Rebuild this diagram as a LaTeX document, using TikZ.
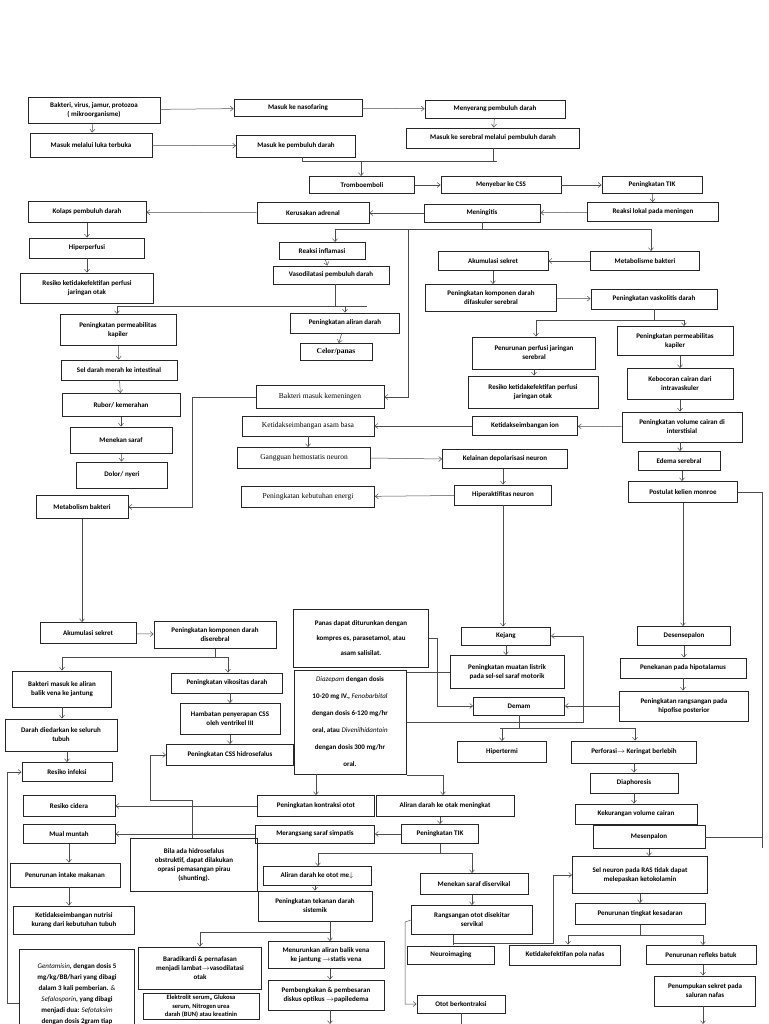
\documentclass[tikz,border=0pt]{standalone}
\usepackage{fontspec}
\setmainfont{Carlito}
\newfontfamily\srf{Liberation Serif}
\usetikzlibrary{arrows.meta}
\begin{document}
\begin{tikzpicture}[x=1pt,y=-1pt,
 bx/.style={draw=black!85,line width=0.9pt,align=center,inner sep=1pt,font=\fontsize{7}{9}\selectfont\bfseries},
 sb/.style={bx,font=\srf\fontsize{7.5}{9}\selectfont},
 ar/.style={draw=black!70,line width=0.5pt,-{Straight Barb[length=3pt,width=5pt]}},
 ln/.style={draw=black!70,line width=0.5pt}]
\useasboundingbox (0,0) rectangle (768,1024);
\newcommand\B[7][bx]{\node[#1,minimum width=#5,minimum height=#6] (#2) at (#3,#4) {#7};}
\B{b1}{94}{110}{132}{26}{Bakteri, virus, jamur, protozoa\\( mikroorganisme)}
\B{b2}{91}{145}{122}{24}{Masuk melalui luka terbuka}
\B{b3}{298}{108}{128}{17}{Masuk ke nasofaring}
\B{b4}{296}{146}{119}{22}{Masuk ke pembuluh darah}
\B{b5}{495}{109}{140}{18}{Menyerang pembuluh darah}
\B{b6}{493}{138}{173}{20}{Masuk ke serebral melalui pembuluh darah}
\B{b7}{362}{185}{105}{17}{Tromboemboli}
\B{b8}{501}{185}{120}{17}{Menyebar ke CSS}
\B{b9}{652}{185}{100}{17}{Peningkatan TIK}
\B{b10}{653}{212}{131}{19}{Reaksi lokal pada meningen}
\B{b11}{482}{213}{116}{18}{Meningitis}
\B{b12}{313}{213}{112}{21}{Kerusakan adrenal}
\B{b13}{87}{212}{118}{21}{Kolaps pembuluh darah}
\B{b14}{87}{248}{115}{20}{Hiperperfusi}
\B{b15}{87}{288}{133}{30}{Resiko ketidakefektifan perfusi\\jaringan otak}
\B{b16}{322}{251}{86}{17}{Reaksi inflamasi}
\B{b17}{331}{275}{116}{18}{Vasodilatasi pembuluh darah}
\B{b18}{493}{261}{110}{19}{Akumulasi sekret}
\B{b19}{645}{261}{109}{19}{Metabolisme bakteri}
\B{b20}{491}{298}{131}{27}{Peningkatan komponen darah\\difaskuler serebral}
\B{b21}{654}{299}{126}{20}{Peningkatan vaskolitis darah}
\B{b22}{118}{330}{116}{31}{Peningkatan permeabilitas\\kapiler}
\B{b23}{345}{323}{109}{20}{Peningkatan aliran darah}
\B[sb]{b24}{336}{352}{72}{17}{\bfseries Celor/panas}
\B{b25}{119}{370}{116}{20}{Sel darah merah ke intestinal}
\B{b26}{121}{405}{118}{23}{Rubor/ kemerahan}
\B{b27}{121}{440}{102}{26}{Menekan saraf}
\B{b28}{122}{475}{91}{26}{Dolor/ nyeri}
\B{b29}{82}{507}{92}{23}{Metabolism bakteri}
\B[sb]{b30}{320}{397}{128}{23}{Bakteri masuk kemeningen}
\B[sb]{b31}{308}{426}{132}{20}{Ketidakseimbangan asam basa}
\B[sb]{b32}{304}{458}{133}{21}{Gangguan hemostatis neuron}
\B[sb]{b33}{308}{497}{133}{21}{Peningkatan kebutuhan energi}
\B{b34}{534}{353}{123}{32}{Penurunan perfusi jaringan\\serebral}
\B{b35}{533}{392}{130}{32}{Resiko ketidakefektifan perfusi\\jaringan otak}
\B{b36}{675}{341}{116}{29}{Peningkatan permeabilitas\\kapiler}
\B{b37}{680}{384}{106}{31}{Kebocoran cairan dari\\intravaskuler}
\B{b38}{682}{427}{120}{30}{Peningkatan volume cairan di\\interstisial}
\B{b39}{525}{426}{105}{19}{Ketidakseimbangan ion}
\B{b40}{505}{459}{125}{19}{Kelainan depolarisasi neuron}
\B{b41}{503}{495}{97}{20}{Hiperaktifitas neuron}
\B{b42}{679}{461}{82}{19}{Edema serebral}
\B{b43}{683}{492}{109}{21}{Postulat kelien monroe}
\B{b44}{88}{633}{96}{21}{Akumulasi sekret}
\B{b45}{215}{635}{122}{27}{Peningkatan komponen darah\\diserebral}
\node[bx,font=\fontsize{7}{15}\selectfont\bfseries,minimum width=135,minimum height=58] (b46) at (361,638) {Panas dapat diturunkan dengan\\kompres es, parasetamol, atau\\asam salisilat.};
\node[bx,font=\fontsize{7}{17}\selectfont\bfseries,minimum width=112,minimum height=104] (b47) at (350,722) {\textit{\mdseries Diazepam} dengan dosis\\10-20 mg IV., \textit{\mdseries Fenobarbital}\\dengan dosis 6-120 mg/hr\\oral, atau \textit{\mdseries Divenilhidantoin}\\dengan dosis 300 mg/hr\\oral.};
\B{b48}{62}{689}{99}{36}{Bakteri masuk ke aliran\\balik vena ke jantung}
\B{b49}{227}{683}{111}{20}{Peningkatan vikositas darah}
\B{b50}{230}{719}{100}{31}{Hambatan penyerapan CSS\\oleh ventrikel III}
\B{b51}{230}{755}{127}{21}{Peningkatan CSS hidrosefalus}
\B{b52}{61}{735}{112}{32}{Darah diedarkan ke seluruh\\tubuh}
\B{b53}{67}{772}{90}{19}{Resiko infeksi}
\B{b54}{69}{806}{92}{21}{Resiko cidera}
\B{b55}{316}{806}{117}{21}{Peningkatan kontraksi otot}
\B{b56}{445}{806}{138}{21}{Aliran darah ke otak meningkat}
\B{b57}{506}{636}{89}{18}{Kejang}
\B{b58}{507}{672}{114}{33}{Peningkatan muatan listrik\\pada sel-sel saraf motorik}
\B{b59}{519}{706}{91}{18}{Demam}
\B{b60}{684}{636}{93}{19}{Desensepalon}
\B{b61}{683}{668}{126}{20}{Penekanan pada hipotalamus}
\B{b62}{684}{706}{129}{30}{Peningkatan rangsangan pada\\hipofise posterior}
\B{b63}{502}{752}{89}{21}{Hipertermi}
\B{b64}{634}{752}{125}{22}{Perforasi$\rightarrow$ Keringat berlebih}
\B{b65}{634}{783}{88}{20}{Diaphoresis}
\B{b66}{636}{814}{122}{20}{Kekurangan volume cairan}
\B{b67}{69}{834}{92}{19}{Mual muntah}
\B{b68}{315}{834}{119}{18}{Merangsang saraf simpatis}
\B{b69}{440}{834}{77}{19}{Peningkatan TIK}
\B{b70}{194}{865}{127}{53}{Bila ada hidrosefalus\\obstruktif, dapat dilakukan\\oprasi pemasangan pirau\\(shunting).}
\B{b71}{649}{837}{112}{23}{Mesenpalon}
\B{b72}{317}{876}{108}{19}{Aliran darah ke otot me$\downarrow$}
\B{b73}{65}{875}{110}{24}{Penurunan intake makanan}
\B{b74}{315}{906}{114}{30}{Peningkatan tekanan darah\\sistemik}
\B{b75}{474}{884}{108}{21}{Menekan saraf diservikal}
\B{b76}{640}{875}{135}{37}{Sel neuron pada RAS tidak dapat\\melepaskan ketokolamin}
\B{b77}{472}{920}{121}{29}{Rangsangan otot disekitar\\servikal}
\B{b78}{74}{920}{121}{28}{Ketidakseimbangan nutrisi\\kurang dari kebutuhan tubuh}
\B{b79}{640}{914}{130}{21}{Penurunan tingkat kesadaran}
\B{b80}{451}{955}{87}{18}{Neuroimaging}
\B{b81}{565}{955}{111}{20}{Ketidakefektifan pola nafas}
\B{b82}{701}{955}{110}{19}{Penurunan refleks batuk}
\B{b83}{705}{991}{101}{30}{Penumpukan sekret pada\\saluran nafas}
\B{b84}{461}{1004}{88}{18}{Otot berkontraksi}
\B{b85}{200}{968}{123}{42}{Baradikardi \& pernafasan\\menjadi lambat$\rightarrow$vasodilatasi\\otak}
\B{b86}{326}{955}{116}{27}{Menurunkan aliran balik vena\\ke jantung $\rightarrow$statis vena}
\B{b87}{326}{995}{116}{30}{Pembengkakan \& pembesaran\\diskus optikus $\rightarrow$papiledema}
\node[bx,anchor=north,minimum width=115,minimum height=90,font=\fontsize{7}{11}\selectfont\bfseries] (b88) at (77,949) {\textit{\mdseries Gentamisin}, dengan dosis 5\\mg/kg/BB/hari yang dibagi\\dalam 3 kali pemberian. \textit{\mdseries \&}\\\textit{\mdseries Sefalosporin}, yang dibagi\\menjadi dua: \textit{\mdseries Sefotaksim}\\dengan dosis 2gram tiap};
\node[bx,anchor=north,minimum width=116,inner ysep=1.5pt,font=\fontsize{6.5}{8.5}\selectfont\bfseries] (b89) at (201,993) {Elektrolit serum,, Glukosa\\serum, Nitrogen urea\\darah (BUN) atau kreatinin};
% connectors
\draw[ar] (b1) -- (b3); \draw[ar] (b3) -- (b5); \draw[ar] (b1) -- (b2); \draw[ar] (b2) -- (b4);
\draw[ar] (b5) -- (b6);
\draw[ln] (b4.south -| 302,0) |- (497,161); \draw[ln] (b6.south) -- (493,161);
\draw[ar] (361,161) -- (b7.north -| 361,0);
\draw[ar] (b7) -- (b8); \draw[ar] (b8) -- (b9); \draw[ar] (b9) -- (b10); \draw[ar] (b10) -- (b11);
\draw[ar] (b11) -- (b12); \draw[ar] (b12) -- (b13); \draw[ar] (b13) -- (b14); \draw[ar] (b14) -- (b15);
\draw[ln] (b11.south) -- (482,229); \draw[ln] (335,229) -- (651,229);
\draw[ar] (335,229) -- (b16.north -| 335,0); \draw[ar] (651,229) -- (b19.north -| 651,0);
\draw[ar] (408,229) |- (b30.east);
\draw[ar] (b16) -- (b17);
\draw[ln] (b17.south -| 335,0) -- (335,306); \draw[ln] (117,306) -- (367,306);
\draw[ar] (117,306) -- (b22.north -| 117,0); \draw[ar] (345,306) -- (b23.north);
\draw[ar] (b23) -- (b24);
\draw[ar] (b22) -- (b25); \draw[ar] (b25) -- (b26); \draw[ar] (b26) -- (b27); \draw[ar] (b27) -- (b28);
\draw[ar] (b19) -- (b18); \draw[ar] (b18) -- (b18 |- b20.north); \draw[ar] (b20) -- (b21);
\draw[ln] (b21.south) -- (654,320); \draw[ln] (536,320) -- (684,320);
\draw[ar] (536,320) -- (b34.north -| 536,0); \draw[ar] (684,320) -- (b36.north -| 684,0);
\draw[ar] (b34) -- (b34 |- b35.north);
\draw[ar] (b36.south -| 680,0) -- (b37.north -| 680,0); \draw[ar] (b37) -- (b37 |- b38.north);
\draw[ar] (b38.south -| 680,0) -- (b42.north -| 680,0); \draw[ar] (b42.south -| 682,0) -- (b43.north -| 682,0);
\draw[ar] (b38) -- (b39); \draw[ar] (b39) -- (b31);
\draw[ar] (b31) -- (b31 |- b32.north); \draw[ar] (b32.east) -- (b40.west);
\draw[ar] (b40.south -| 503,0) -- (b41.north -| 503,0); \draw[ar] (b41) -- (b33);
\draw[ar] (b30.west) -- (192,397) |- (b29.east);
\draw[ar] (b29.south) -- (b29.south |- b44.north);
\draw[ar] (b44) -- (b45);
\draw[ln] (b45.south) -- (215,657); \draw[ln] (62,657) -- (228,657);
\draw[ar] (62,657) -- (b48.north -| 62,0); \draw[ar] (228,657) -- (b49.north -| 228,0);
\draw[ar] (b48.south) -- (b52.north -| b48.south); \draw[ar] (b52.south -| 67,0) -- (b53.north);
\draw[ar] (b49.south -| 230,0) -- (b50.north); \draw[ar] (b50) -- (b51);
\draw[ar] (b41.south) -- (b57.north -| b41.south);
\draw[ar] (b43.south) -- (b60.north -| b43.south);
\draw[ln] (b43.east) -- (762,492) -- (762,848); \draw[ln] (b71.east) -- (762,837);
\draw[ar] (b57) -- (b57 |- b58.north);
\draw[ar] (b60) -- (b60 |- b61.north); \draw[ar] (b61) -- (b61 |- b62.north);
\draw[ar] (b62) -- (b59);
\draw[ar] (b46.east) -- (437,638) |- (b59.west);
\draw[ln] (407,672) -- (b58.west);
\draw[ar] (407,722) -- (583,722) |- (b57.east);
\draw[ln] (b59.south) -- (519,728); \draw[ln] (500,728) -- (636,728);
\draw[ar] (502,728) -- (b63.north); \draw[ar] (635,728) -- (b64.north -| 635,0);
\draw[ar] (b64) -- (b65); \draw[ar] (b65) -- (b65 |- b66.north);
\draw[ar] (316,774) -- (b55.north);
\draw[ar] (407,775) -- (443,775) -- (b56.north -| 443,0);
\draw[ar] (b55) -- (b54);
\draw[ar] (b56.south -| 440,0) -- (b69.north);
\draw[ar] (b69) -- (b68); \draw[ar] (b68) -- (b67);
\draw[ar] (192,838) -- (192,800) -- (150,800) |- (b51.west);
\draw[ar] (7,1003) -- (7,772) -- (b53.west);
\draw[ln] (7,1003) -- (b88.west |- 0,1003);
\draw[ar] (b67) -- (b67 |- b73.north); \draw[ar] (b73.south -| 69,0) -- (b78.north -| 69,0);
\draw[ln] (b69.south) -- (440,853); \draw[ln] (318,853) -- (472,853);
\draw[ar] (318,853) -- (b72.north -| 318,0); \draw[ar] (472,853) -- (b75.north -| 472,0);
\draw[ar] (b72.south -| 315,0) -- (b74.north);
\draw[ln] (b74.south -| 330,0) -- (330,932); \draw[ln] (200,932) -- (330,932);
\draw[ar] (200,932) -- (b85.north); \draw[ar] (330,932) -- (b86.north -| 330,0);
\draw[ar] (b86.south -| 330,0) -- (b87.north -| 330,0);
\draw[ar] (b87.south -| 330,0) -- (330,1024);
\draw[ar] (b75.south -| 472,0) -- (b77.north -| 472,0);
\draw[ar] (b77.west) -- (405,922) |- (b84.west);
\draw[ln] (b77.south -| 453,0) -- (453,945);
\draw[ar] (453,943) -- (553,943) |- (b76.west);
\draw[ar] (b71) -- (b71 |- b76.north); \draw[ar] (b76) -- (b76 |- b79.north);
\draw[ln] (b79.south) -- (640,935); \draw[ln] (568,935) -- (703,935);
\draw[ar] (568,935) -- (b81.north -| 568,0); \draw[ar] (703,935) -- (b82.north -| 703,0);
\draw[ar] (b82.south -| 703,0) -- (b83.north -| 703,0);
\draw[ar] (b83.south -| 703,0) -- (703,1024);
\draw[ln] (b84.south) -- (461,1024);
\end{tikzpicture}
\end{document}
